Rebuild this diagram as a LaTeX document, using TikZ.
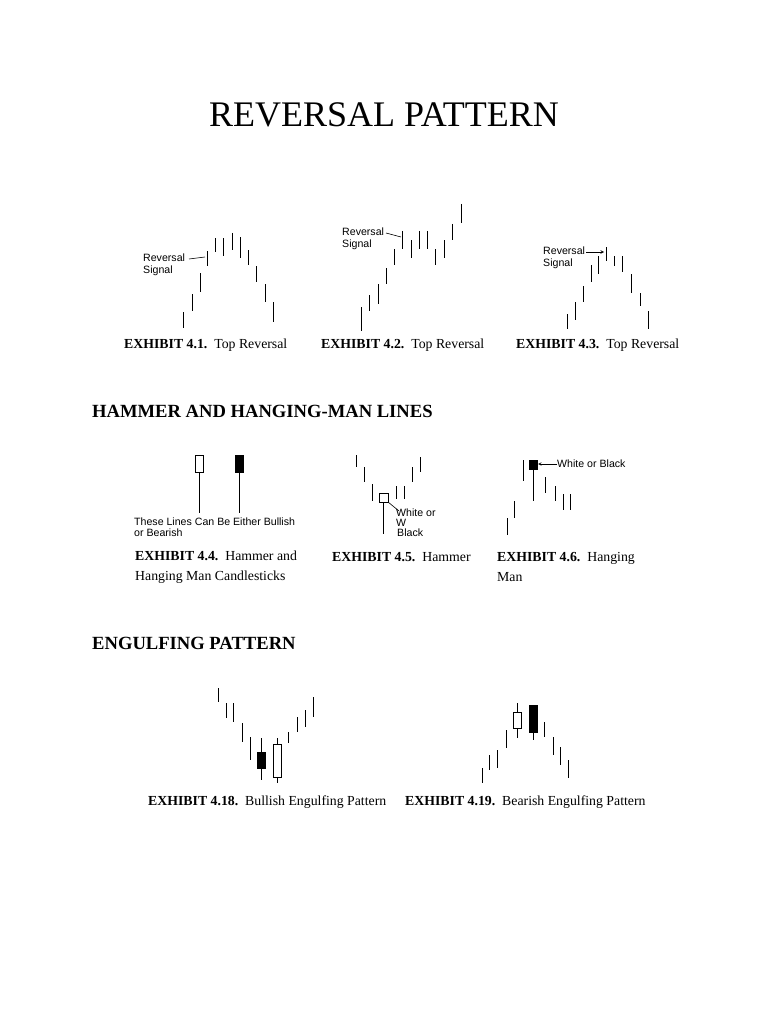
\documentclass[tikz,border=0pt]{standalone}
\usepackage{fontspec}
\setmainfont{Liberation Serif}
\newfontfamily\lbl{Liberation Sans}
\tikzset{
 bar/.style={line width=1pt},
 capt/.style={anchor=west,inner sep=0pt,font=\fontsize{13.8}{20}\selectfont},
 lab/.style={anchor=west,inner sep=0pt,font=\lbl\fontsize{10.6}{12.5}\selectfont,align=left},
 head/.style={anchor=west,inner sep=0pt,font=\bfseries\fontsize{18.6}{22}\selectfont},
 wbox/.style={draw,fill=white,line width=0.8pt},
 bbox/.style={draw,fill=black,line width=0.8pt}
}
\newcommand{\bars}[1]{\foreach \x/\a/\b in {#1}{\draw[bar] (\x,\a)--(\x,\b);}}
\begin{document}
\begin{tikzpicture}[x=1pt,y=-1pt]
\useasboundingbox (0,0) rectangle (768,1024);
\fill[white] (0,0) rectangle (768,1024);
\node[inner sep=0pt,font=\fontsize{36}{40}\selectfont] (title) at (384,115) {REVERSAL PATTERN};
% 4.1
\bars{183/312/328,192/294/311,200/273/292,207/251/266,215/238/252,223/238/256,232/233/250,240/237/258,248/250/265,256/266/282,265/284/302,273/302/322}
\node[lab] (r1) at (143,265) {Reversal\\Signal};
\coordinate (r1e) at (205,257);
\draw[line width=0.6pt] (189,259)--(r1e);
\node[capt] (c1) at (124,345) {\textbf{EXHIBIT 4.1.}\ \ Top Reversal};
% 4.2
\bars{361/307/331,369/295/311,378/284/304,386/268/284,394/249/265,402/231/249,411/240/258,419/231/249,427/231/249,435/249/265,444/240/258,452/224/240,461/204/223}
\node[lab] (r2) at (342,239) {Reversal\\Signal};
\coordinate (r2e) at (401,237);
\draw[line width=0.6pt] (386,233)--(r2e);
\node[capt] (c2) at (321,345) {\textbf{EXHIBIT 4.2.}\ \ Top Reversal};
% 4.3
\bars{567/314/329,575/302/320,583/286/302,591/265/282,598/256/274,606/247/261,614/256/266,622/256/272,631/274/293,640/293/306,648/311/329}
\node[lab] (r3) at (543,258) {Reversal\\Signal};
\coordinate (r3e) at (604,252);
\draw[line width=0.6pt,-stealth] (586,252)--(r3e);
\node[capt] (c3) at (516,345) {\textbf{EXHIBIT 4.3.}\ \ Top Reversal};
% heading
\node[head] (h1) at (92,411) {HAMMER AND HANGING-MAN LINES};
% 4.4
\draw[bar] (199,472)--(199,513);
\draw[wbox] (195,455) rectangle (203,472);
\draw[bar] (239,472)--(239,513);
\draw[bbox] (235,455) rectangle (243,472);
\node[lab] (t4) at (134,527) {These Lines Can Be Either Bullish\\[-2pt]or Bearish};
\node[capt,align=left] (c4) at (135,567) {\textbf{EXHIBIT 4.4.}\ \ Hammer and\\Hanging Man Candlesticks};
% 4.5
\bars{356/455/467,364/467/482,372/484/501,396/486/499,404/486/499,412/467/482,420/457/472}
\draw[bar] (383,502)--(383,534);
\draw[wbox] (379,493) rectangle (388,502);
\coordinate (wb) at (399,511);
\draw[line width=0.6pt] (388,502)--(wb);
\node[lab] (t5) at (396,513) {White or};
\node[lab] (t5w) at (396,523) {W};
\node[lab] (t5b) at (397,533) {Black};
\node[capt] (c5) at (332,557) {\textbf{EXHIBIT 4.5.}\ \ Hammer};
% 4.6
\bars{507/518/535,514/501/518,523/460/481,545/477/493,555/486/501,563/494/510,570/494/510}
\draw[bar] (533,469)--(533,501);
\draw[bbox] (529,460) rectangle (537,469);
\node[lab] (t6) at (557,464) {White or Black};
\draw[line width=0.6pt,-stealth] (t6.west)--(538,464);
\node[capt,align=left] (c6) at (497,567) {\textbf{EXHIBIT 4.6.}\ \ Hanging\\Man};
% heading
\node[head] (h2) at (92,643) {ENGULFING PATTERN};
% 4.18
\bars{218/688/702,226/703/718,233/703/722,242/723/742,250/737/760,288/732/743,297/717/732,305/710/727,313/697/717}
\draw[bar] (261,738)--(261,780);
\draw[bbox] (257,752) rectangle (265,768);
\draw[bar] (277,738)--(277,783);
\draw[wbox] (273,744) rectangle (281,777);
\node[capt] (c18) at (148,802) {\textbf{EXHIBIT 4.18.}\ \ Bullish Engulfing Pattern};
% 4.19
\bars{482/768/783,489/755/770,497/750/768,506/730/748,544/722/737,553/737/755,560/747/765,568/760/778}
\draw[bar] (517,703)--(517,738);
\draw[wbox] (513,712) rectangle (521,728);
\draw[bar] (533,705)--(533,740);
\draw[bbox] (529,705) rectangle (537,732);
\node[capt] (c19) at (405,802) {\textbf{EXHIBIT 4.19.}\ \ Bearish Engulfing Pattern};
\end{tikzpicture}
\end{document}
